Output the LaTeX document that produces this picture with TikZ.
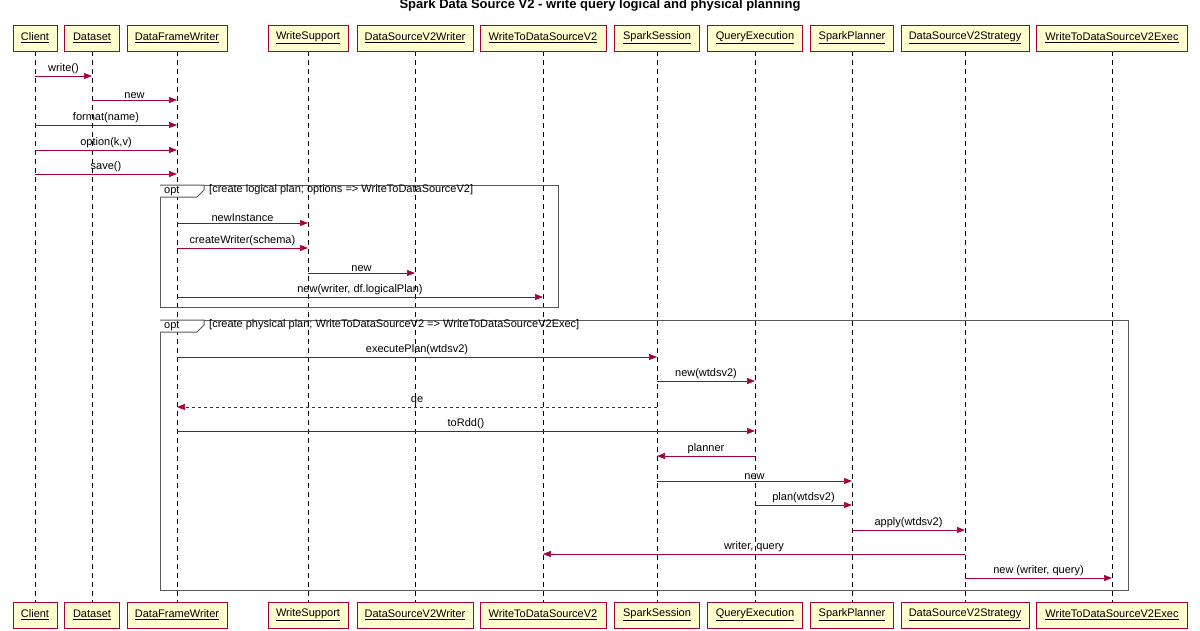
\documentclass[tikz,border=0pt]{standalone}
\usepackage{fontspec}
\setmainfont{Liberation Sans}
\usetikzlibrary{arrows.meta}
\definecolor{ar}{HTML}{A80036}
\definecolor{pbg}{HTML}{FEFECE}
\begin{document}
\begin{tikzpicture}[x=1pt,y=-1pt,
  part/.style={draw=ar,fill=pbg,line width=0.8pt,minimum height=26pt,inner xsep=0pt,font=\fontsize{11}{13}\selectfont},
  life/.style={line width=0.6pt,dash pattern=on 5pt off 4pt},
  msg/.style={draw=ar,line width=0.7pt,-{Triangle[length=8pt,width=6pt]}},
  ret/.style={msg,dash pattern=on 3pt off 3pt},
  lab/.style={font=\fontsize{11}{13}\selectfont,above,inner sep=1.5pt},
  ftxt/.style={font=\fontsize{11}{13}\selectfont,anchor=west,inner sep=0pt},
  frame/.style={draw=gray!70!black,line width=1pt}]
\useasboundingbox (0,0) rectangle (1200,630);
\node[font=\bfseries\fontsize{13}{15}\selectfont] (title) at (600,5) {Spark Data Source V2 - write query logical and physical planning};
\foreach \n/\x/\w/\t in {cl/35/44/Client,ds/92/55/Dataset,dfw/177/100/DataFrameWriter,ws/308/80/WriteSupport,dsw/415/116/DataSourceV2Writer,wt/543/126/WriteToDataSourceV2,ss/657/85/SparkSession,qe/755/95/QueryExecution,sp/852/83/SparkPlanner,st/965/128/DataSourceV2Strategy,ex/1112/151/WriteToDataSourceV2Exec}{
  \draw[life] (\x,51) -- (\x,603);
  \node[part,minimum width=\w pt] (\n t) at (\x,38) {\underline{\t}};
  \node[part,minimum width=\w pt] (\n b) at (\x,615) {\underline{\t}};
  \coordinate (\n) at (\x,0);
}
\def\M#1#2#3#4{\draw[msg] ([yshift=-#3pt]#1) -- node[lab]{#4} ([yshift=-#3pt]#2);}
\def\R#1#2#3#4{\draw[ret] ([yshift=-#3pt]#1) -- node[lab]{#4} ([yshift=-#3pt]#2);}
\M{cl}{ds}{76}{write()}
\M{ds}{dfw}{100}{new}
\M{cl}{dfw}{125}{format(name)}
\M{cl}{dfw}{150}{option(k,v)}
\M{cl}{dfw}{174}{save()}
% opt 1
\draw[frame] (160,185) rectangle (558,307);
\draw[frame,fill=white] (160,185) -- (204,185) -- (204,190) -- (197,197) -- (160,197);
\node[ftxt] (o1) at (164,191) {opt};
\node[ftxt] (g1) at (209,190) {[create logical plan; options => WriteToDataSourceV2]};
\M{dfw}{ws}{223}{newInstance}
\M{dfw}{ws}{248}{createWriter(schema)}
\M{ws}{dsw}{273}{new}
\M{dfw}{wt}{297}{new(writer, df.logicalPlan)}
% opt 2
\draw[frame] (160,320) rectangle (1128,590);
\draw[frame,fill=white] (160,320) -- (204,320) -- (204,325) -- (197,332) -- (160,332);
\node[ftxt] (o2) at (164,326) {opt};
\node[ftxt] (g2) at (209,325) {[create physical plan; WriteToDataSourceV2 => WriteToDataSourceV2Exec]};
\M{dfw}{ss}{357}{executePlan(wtdsv2)}
\M{ss}{qe}{381}{new(wtdsv2)}
\R{ss}{dfw}{407}{qe}
\M{dfw}{qe}{431}{toRdd()}
\M{qe}{ss}{456}{planner}
\M{ss}{sp}{481}{new}
\M{qe}{sp}{505}{plan(wtdsv2)}
\M{sp}{st}{530}{apply(wtdsv2)}
\M{st}{wt}{554}{writer, query}
\M{st}{ex}{578}{new (writer, query)}
\end{tikzpicture}
\end{document}
